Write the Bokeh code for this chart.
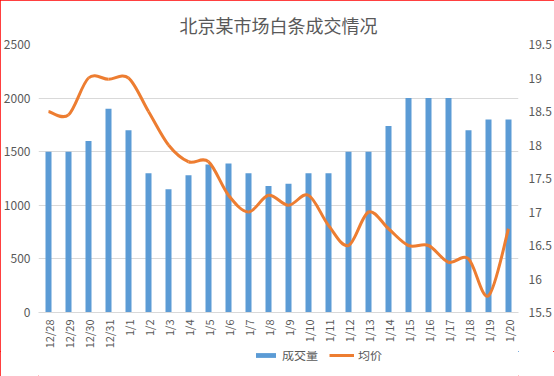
import math
from bokeh.plotting import figure
from bokeh.layouts import column
from bokeh.models import (Range1d, LinearAxis, FixedTicker, NumeralTickFormatter,
                          Legend, LegendItem, ColumnDataSource)
from bokeh.embed import file_html
from bokeh.resources import INLINE

dates = ["12/28", "12/29", "12/30", "12/31", "1/1", "1/2", "1/3", "1/4", "1/5", "1/6",
         "1/7", "1/8", "1/9", "1/10", "1/11", "1/12", "1/13", "1/14", "1/15", "1/16",
         "1/17", "1/18", "1/19", "1/20"]
volume = [1500, 1500, 1600, 1900, 1700, 1300, 1150, 1280, 1380, 1390,
          1300, 1180, 1200, 1300, 1300, 1500, 1500, 1740, 2000, 2000,
          2000, 1700, 1800, 1800]
price = [18.5, 18.45, 19.0, 18.98, 19.0, 18.5, 18.0, 17.75, 17.75, 17.25,
         17.0, 17.25, 17.1, 17.25, 16.8, 16.5, 17.0, 16.75, 16.5, 16.5,
         16.25, 16.3, 15.75, 16.75]
series_names = ["成交量", "均价"]

FONT = "Noto Sans CJK SC"
GREY = "#595959"
BAR_C = "#5b9bd5"
LINE_C = "#ed7d31"
idx = list(range(len(dates)))

p = figure(width=554, height=351, output_backend="svg", toolbar_location=None,
           x_range=Range1d(-0.5, len(dates) - 0.5), y_range=Range1d(0, 2500),
           min_border_left=36, min_border_right=34, min_border_top=44, min_border_bottom=39)
p.extra_y_ranges = {"right": Range1d(15.5, 19.5)}

p.title.text = "北京某市场白条成交情况"
p.title.align = "center"
p.title.text_font = FONT
p.title.text_font_size = "18px"
p.title.text_font_style = "normal"
p.title.text_color = GREY
p.title.standoff = 13

p.outline_line_color = None
p.background_fill_color = "white"
p.border_fill_color = "white"

p.xgrid.grid_line_color = None
p.ygrid.grid_line_color = "#d9d9d9"
p.ygrid.ticker = FixedTicker(ticks=[0, 500, 1000, 1500, 2000, 2500])

bars = p.vbar(x=idx, top=volume, width=0.3, fill_color=BAR_C, line_color=None)

# smooth curve (Catmull-Rom rendered as Bezier segments between data points)
n = len(price)
x0, y0, x1, y1, cx0, cy0, cx1, cy1 = [], [], [], [], [], [], [], []
for i in range(n - 1):
    pm = max(i - 1, 0)
    pp = min(i + 2, n - 1)
    x0.append(idx[i]); y0.append(price[i])
    x1.append(idx[i + 1]); y1.append(price[i + 1])
    cx0.append(idx[i] + (idx[i + 1] - idx[pm]) / 6)
    cy0.append(price[i] + (price[i + 1] - price[pm]) / 6)
    cx1.append(idx[i + 1] - (idx[pp] - idx[i]) / 6)
    cy1.append(price[i + 1] - (price[pp] - price[i]) / 6)
src = ColumnDataSource(dict(x0=x0, y0=y0, x1=x1, y1=y1, cx0=cx0, cy0=cy0, cx1=cx1, cy1=cy1))
curve = p.bezier(x0="x0", y0="y0", x1="x1", y1="y1", cx0="cx0", cy0="cy0", cx1="cx1", cy1="cy1",
                 source=src, line_color=LINE_C, line_width=3, y_range_name="right")

# axes
p.xaxis.ticker = FixedTicker(ticks=idx)
p.xaxis.major_label_overrides = {i: d for i, d in zip(idx, dates)}
p.xaxis.major_label_orientation = math.pi / 2
p.xaxis.axis_line_color = "#d9d9d9"
p.xaxis.major_tick_line_color = None
p.xaxis.minor_tick_line_color = None
p.xaxis.major_tick_out = 0
p.xaxis.major_tick_in = 0
p.xaxis.minor_tick_out = 0
p.xaxis.major_label_text_font = FONT
p.xaxis.major_label_text_font_size = "11px"
p.xaxis.major_label_text_color = GREY
p.xaxis.major_label_standoff = 7

p.yaxis.ticker = FixedTicker(ticks=[0, 500, 1000, 1500, 2000, 2500])
p.yaxis.axis_line_color = None
p.yaxis.major_tick_line_color = None
p.yaxis.minor_tick_line_color = None
p.yaxis.major_tick_out = 0
p.yaxis.major_tick_in = 0
p.yaxis.minor_tick_out = 0
p.yaxis.major_label_text_font = FONT
p.yaxis.major_label_text_font_size = "12px"
p.yaxis.major_label_text_color = GREY
p.yaxis.major_label_standoff = 8

ry = LinearAxis(y_range_name="right",
                ticker=FixedTicker(ticks=[15.5, 16, 16.5, 17, 17.5, 18, 18.5, 19, 19.5]),
                formatter=NumeralTickFormatter(format="0.[0]"))
ry.axis_line_color = None
ry.major_tick_line_color = None
ry.minor_tick_line_color = None
ry.major_tick_out = 0
ry.major_tick_in = 0
ry.minor_tick_out = 0
ry.major_label_text_font = FONT
ry.major_label_text_font_size = "12px"
ry.major_label_text_color = GREY
ry.major_label_standoff = 10
p.add_layout(ry, "right")

# legend strip below the chart (its renderers share the series' data, kept outside the strip's view)
p2 = figure(width=554, height=25, output_backend="svg", toolbar_location=None,
            x_range=Range1d(-30, -29), y_range=Range1d(-30, -29),
            x_axis_location=None, y_axis_location=None,
            min_border_left=0, min_border_right=0, min_border_top=0, min_border_bottom=0)
p2.grid.visible = False
p2.outline_line_color = None
p2.border_fill_color = "white"
leg_bar = p2.vbar(x=idx, top=volume, width=0.3, fill_color=BAR_C, line_color=None)
leg_line = p2.line(x=idx, y=price, line_color=LINE_C, line_width=3)
legend = Legend(items=[LegendItem(label=series_names[0], renderers=[leg_bar]),
                       LegendItem(label=series_names[1], renderers=[leg_line])],
                orientation="horizontal", location=(215, 13),
                label_text_font=FONT, label_text_font_size="12px", label_text_color=GREY,
                glyph_width=25, glyph_height=6, label_height=12, label_standoff=4, spacing=11,
                padding=0, margin=0,
                border_line_color=None, background_fill_alpha=0)
p2.add_layout(legend)

page = column(p, p2, spacing=0,
              styles={"outline": "1px solid #ff0000", "outline-offset": "-1px"})

open("out.html", "w").write(file_html(page, INLINE))
